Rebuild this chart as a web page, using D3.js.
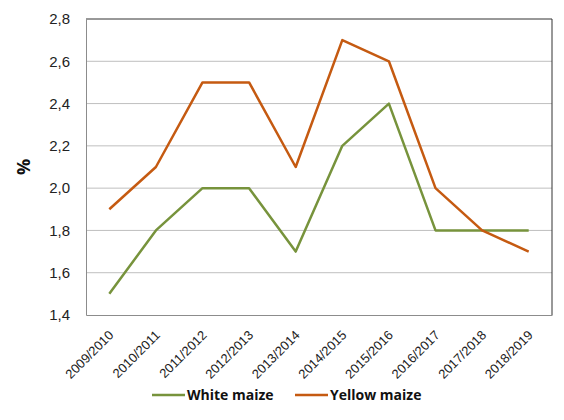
<!DOCTYPE html>
<html>
<head>
  <meta charset="utf-8">
  <title>Maize</title>
  <script src="https://cdn.jsdelivr.net/npm/d3@7/dist/d3.min.js"></script>
  <style>
    html, body { margin: 0; padding: 0; background: #fff; overflow: hidden }
    svg { font-family: "Open Sans", sans-serif; }
  </style>
</head>
<body>
  <div id="chart"></div>
<script>
  const seasons = ['2009/2010', '2010/2011', '2011/2012', '2012/2013', '2013/2014',
    '2014/2015', '2015/2016', '2016/2017', '2017/2018', '2018/2019']
  const whiteMaize = [1.5, 1.8, 2.0, 2.0, 1.7, 2.2, 2.4, 1.8, 1.8, 1.8]
  const yellowMaize = [1.9, 2.1, 2.5, 2.5, 2.1, 2.7, 2.6, 2.0, 1.8, 1.7]
  const yTicks = [1.4, 1.6, 1.8, 2.0, 2.2, 2.4, 2.6, 2.8]

  const series = [
    { name: 'White maize', values: whiteMaize, color: '#77933c' },
    { name: 'Yellow maize', values: yellowMaize, color: '#c55a11' }
  ]

  const W = 564, H = 420
  const m = { left: 86, right: 12, top: 19, bottom: 105 }

  const svg = d3.select('#chart').append('svg')
    .attr('width', W).attr('height', H)

  const x = d3.scaleBand().domain(seasons).range([m.left, W - m.right])
  const y = d3.scaleLinear().domain([1.4, 2.8]).range([H - m.bottom, m.top])
  const cx = d => x(d) + x.bandwidth() / 2

  // gridlines
  svg.append('g')
    .selectAll('line')
    .data(yTicks.slice(1, -1))
    .enter().append('line')
    .attr('x1', m.left).attr('x2', W - m.right)
    .attr('y1', d => y(d)).attr('y2', d => y(d))
    .attr('stroke', '#bfbfbf').attr('stroke-width', 1)

  // frame: top/right dark, left/bottom gray
  svg.append('line')
    .attr('x1', m.left).attr('x2', W - m.right)
    .attr('y1', y(2.8)).attr('y2', y(2.8))
    .attr('stroke', '#333').attr('stroke-width', 1)
  svg.append('line')
    .attr('x1', W - m.right).attr('x2', W - m.right)
    .attr('y1', y(2.8)).attr('y2', y(1.4))
    .attr('stroke', '#333').attr('stroke-width', 1)

  const yAxis = svg.append('g')
    .attr('transform', `translate(${m.left},0)`)
    .call(d3.axisLeft(y).tickValues(yTicks).tickSize(0).tickPadding(16)
      .tickFormat(d => d3.format('.1f')(d).replace('.', ',')))
  yAxis.select('.domain').attr('stroke', '#8c8c8c')
  yAxis.selectAll('text').attr('font-size', 15).attr('fill', '#222')

  const xAxis = svg.append('g')
    .attr('transform', `translate(0,${H - m.bottom})`)
    .call(d3.axisBottom(x).tickSize(0).tickPadding(0))
  xAxis.select('.domain').attr('stroke', '#8c8c8c')
  xAxis.selectAll('text')
    .attr('font-size', 13).attr('fill', '#222')
    .attr('text-anchor', 'end')
    .attr('dy', 0)
    .attr('transform', 'translate(5,21) rotate(-45)')

  svg.append('text')
    .attr('transform', `translate(30,${(y(1.4) + y(2.8)) / 2}) rotate(-90)`)
    .attr('text-anchor', 'middle')
    .attr('font-size', 18).attr('font-weight', 'bold').attr('fill', '#111')
    .text('%')

  const line = d3.line()
    .x((d, i) => cx(seasons[i]))
    .y(d => y(d))

  svg.append('g').selectAll('path')
    .data(series)
    .enter().append('path')
    .attr('d', d => line(d.values))
    .attr('fill', 'none')
    .attr('stroke', d => d.color)
    .attr('stroke-width', 2.5)
    .attr('stroke-linejoin', 'round')

  // legend
  const legendX = [152, 295]
  const lg = svg.append('g').selectAll('g')
    .data(series)
    .enter().append('g')
    .attr('transform', (d, i) => `translate(${legendX[i]},395)`)
  lg.append('line')
    .attr('x1', 0).attr('x2', 33)
    .attr('stroke', d => d.color).attr('stroke-width', 2.5)
  lg.append('text')
    .attr('x', 35).attr('dy', '0.35em')
    .attr('font-size', 14).attr('font-weight', 'bold').attr('fill', '#111')
    .text(d => d.name)
</script>
</body>
</html>
